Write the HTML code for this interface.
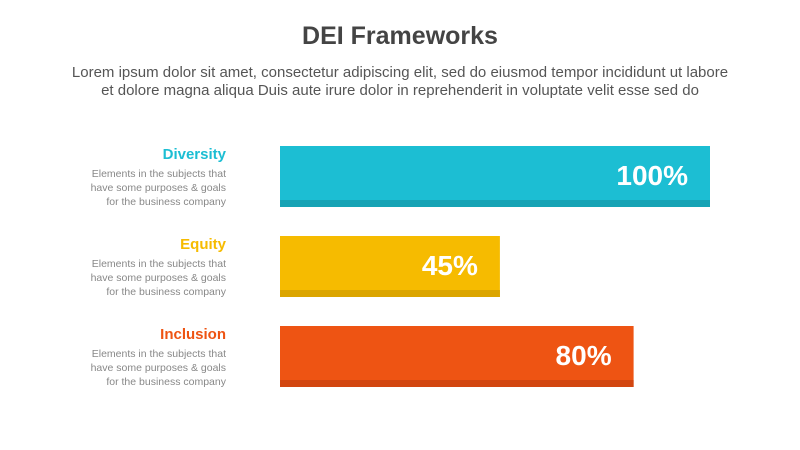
<!DOCTYPE html>
<html><head><meta charset="utf-8"><style>
body{margin:0;width:800px;height:450px;background:#fff;font-family:"Liberation Sans",sans-serif;overflow:hidden;position:relative}
#title{position:absolute;top:22px;left:0;width:800px;text-align:center;font-size:25px;font-weight:bold;color:#444}
#sub{position:absolute;top:64px;left:0;width:800px;text-align:center;font-size:15px;line-height:18px;color:#555}
</style></head><body>
<div id="title">DEI Frameworks</div>
<div id="sub">Lorem ipsum dolor sit amet, consectetur adipiscing elit, sed do eiusmod tempor incididunt ut labore<br>et dolore magna aliqua Duis aute irure dolor in reprehenderit in voluptate velit esse sed do</div>
<svg id="chart" width="800" height="450" style="position:absolute;left:0;top:0"></svg>
<script>
const categories=["Diversity","Equity","Inclusion"];
const values=[100,45,80];
const valueLabels=["100%","45%","80%"];
const colors=["#1cbed3","#f6bb00","#ee5413"];
const darks=["#17a3b5","#dba500","#d24610"];
const NS="http://www.w3.org/2000/svg";
const svg=document.getElementById('chart');
function xw(v){return 48+3.82*v;}
function yTop(i){return 146+i*90;}
function mk(t,a){const e=document.createElementNS(NS,t);for(const k in a)e.setAttribute(k,a[k]);svg.appendChild(e);return e;}
categories.forEach((c,i)=>{
 const y=yTop(i),w=xw(values[i]);
 const g=mk('g',{});
 
 
 const r=mk('rect',{x:280,y:y,width:w,height:61,fill:colors[i]});
 
 
 const d=mk('rect',{x:280,y:y+54,width:w,height:7,fill:darks[i]});
 
 
 const v=mk('text',{x:280+w-22,y:y+39,'text-anchor':'end','font-size':28,'font-weight':'bold',fill:'#fff','font-family':'Liberation Sans, sans-serif'});
 v.textContent=valueLabels[i];
 
 
 const t=mk('text',{x:226,y:y+13,'text-anchor':'end','font-size':15,'font-weight':'bold',fill:colors[i],'font-family':'Liberation Sans, sans-serif'});
 t.textContent=c;
 
 
 ["Elements in the subjects that","have  some purposes & goals","for the  business company"].forEach((s,j)=>{
  const l=mk('text',{x:226,y:y+31+j*14,'text-anchor':'end','font-size':10.5,fill:'#888','font-family':'Liberation Sans, sans-serif'});
  l.textContent=s;
  
  
 });
});
</script>
</body></html>
